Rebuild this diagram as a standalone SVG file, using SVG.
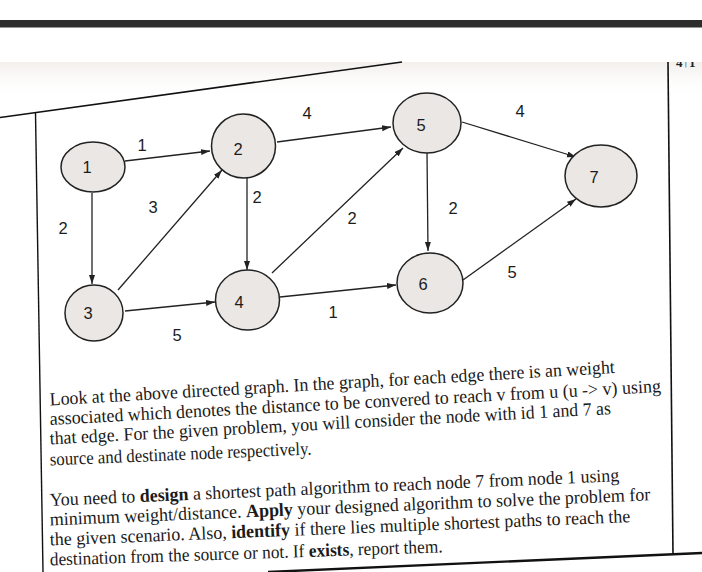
<svg xmlns="http://www.w3.org/2000/svg" width="702" height="572" viewBox="0 0 702 572">
  <defs>
    <style>
      .node ellipse { fill: #ebe7e4; stroke: #222; stroke-width: 1.5; }
      .node text, .elabel { font-family: "Liberation Sans", Arial, sans-serif; font-size: 16.5px; fill: #1c1c1c; text-anchor: middle; }
      .edge { stroke: #222; stroke-width: 1.3; fill: none; marker-end: url(#arrow); }
      .frame { stroke: #111; fill: none; }
      .para { font-family: "Liberation Serif", "Times New Roman", serif; font-size: 18.5px; fill: #1a1a1a; }
      .b { font-weight: bold; }
    </style>
    <marker id="arrow" markerUnits="userSpaceOnUse" markerWidth="10" markerHeight="8" refX="9" refY="3" orient="auto">
      <path d="M0,0 L9,3 L0,6 z" fill="#222"/>
    </marker>
    <linearGradient id="tint" x1="0" y1="0" x2="0" y2="1">
      <stop offset="0" stop-color="#f2efec"/>
      <stop offset="1" stop-color="#ffffff" stop-opacity="0"/>
    </linearGradient>
    <clipPath id="fragclip"><rect x="670" y="62" width="32" height="6"/></clipPath>
  </defs>

  <rect x="0" y="0" width="702" height="572" fill="#ffffff"/>
  <rect x="0" y="20" width="702" height="7.5" fill="#2d2d2d"/>
  <rect x="0" y="62" width="702" height="36" fill="url(#tint)"/>

  <!-- paper frame lines -->
  <g id="frame">
    <path class="frame" d="M0,117.5 L402,62" stroke-width="1.6"/>
    <path class="frame" d="M35.5,113 L43,572" stroke-width="1.4"/>
    <path class="frame" d="M668,62 L673,555" stroke-width="1.6"/>
    <path class="frame" d="M268,572 L702,553" stroke-width="2.4"/>
    <g clip-path="url(#fragclip)">
      <text x="676" y="66.5" font-family="Liberation Serif, serif" font-weight="bold" font-size="13" fill="#222">4↑1</text>
    </g>
  </g>

  <!-- connectors -->
  <g id="edges">
    <line class="edge" x1="125" y1="161" x2="210" y2="151"/>
    <line class="edge" x1="92" y1="193" x2="92" y2="284"/>
    <line class="edge" x1="118" y1="290" x2="222" y2="170"/>
    <line class="edge" x1="247" y1="177" x2="247" y2="270"/>
    <line class="edge" x1="125" y1="311" x2="215" y2="302"/>
    <line class="edge" x1="277" y1="142" x2="391" y2="127"/>
    <line class="edge" x1="272" y1="273" x2="403" y2="148"/>
    <line class="edge" x1="280" y1="297" x2="396" y2="285"/>
    <line class="edge" x1="427" y1="153" x2="428" y2="251"/>
    <line class="edge" x1="462" y1="122" x2="576" y2="157"/>
    <line class="edge" x1="463" y1="280" x2="576" y2="199"/>
    <text class="elabel" x="142" y="151">1</text>
    <text class="elabel" x="63" y="234">2</text>
    <text class="elabel" x="153" y="213">3</text>
    <text class="elabel" x="257" y="203">2</text>
    <text class="elabel" x="177" y="341">5</text>
    <text class="elabel" x="307" y="119">4</text>
    <text class="elabel" x="333" y="318">1</text>
    <text class="elabel" x="352" y="224">2</text>
    <text class="elabel" x="453" y="214">2</text>
    <text class="elabel" x="520" y="117">4</text>
    <text class="elabel" x="512" y="278">5</text>
  </g>

  <!-- nodes -->
  <g id="node1" class="node"><ellipse cx="93" cy="167" rx="32" ry="25"/><text x="87" y="173">1</text></g>
  <g id="node2" class="node"><ellipse cx="243.5" cy="146" rx="32" ry="32"/><text x="238" y="155">2</text></g>
  <g id="node3" class="node"><ellipse cx="94" cy="313" rx="29" ry="28"/><text x="88" y="319">3</text></g>
  <g id="node4" class="node"><ellipse cx="247.5" cy="300" rx="32" ry="30"/><text x="239" y="308">4</text></g>
  <g id="node5" class="node"><ellipse cx="427" cy="123" rx="34" ry="30"/><text x="421" y="131">5</text></g>
  <g id="node6" class="node"><ellipse cx="430" cy="283" rx="33" ry="30"/><text x="423" y="290">6</text></g>
  <g id="node7" class="node"><ellipse cx="601" cy="176" rx="36" ry="31"/><text x="594" y="183">7</text></g>

  <!-- description text -->
  <g id="description" class="para">
    <text x="50" y="405.5" transform="rotate(-3.3 50 405.5)" textLength="566" lengthAdjust="spacingAndGlyphs">Look at the above directed graph. In the graph, for each edge there is an weight</text>
    <text x="50" y="425" transform="rotate(-3.1 50 425)" textLength="612" lengthAdjust="spacingAndGlyphs">associated which denotes the distance to be convered to reach v from u (u -&gt; v) using</text>
    <text x="50" y="444.5" transform="rotate(-3.1 50 444.5)" textLength="562" lengthAdjust="spacingAndGlyphs">that edge. For the given problem, you will consider the node with id 1 and 7 as</text>
    <text x="50" y="465.5" transform="rotate(-2.4 50 465.5)" textLength="262" lengthAdjust="spacingAndGlyphs">source and destinate node respectively.</text>
    <text x="50" y="506" transform="rotate(-2.5 50 506)" textLength="570" lengthAdjust="spacingAndGlyphs">You need to <tspan class="b">design</tspan> a shortest path algorithm to reach node 7 from node 1 using</text>
    <text x="50" y="525.5" transform="rotate(-2.4 50 525.5)" textLength="601" lengthAdjust="spacingAndGlyphs">minimum weight/distance. <tspan class="b">Apply</tspan> your designed algorithm to solve the problem for</text>
    <text x="50" y="545.5" transform="rotate(-2.3 50 545.5)" textLength="581" lengthAdjust="spacingAndGlyphs">the given scenario. Also, <tspan class="b">identify</tspan> if there lies multiple shortest paths to reach the</text>
    <text x="50" y="565.5" transform="rotate(-1.9 50 565.5)" textLength="393" lengthAdjust="spacingAndGlyphs">destination from the source or not. If <tspan class="b">exists</tspan>, report them.</text>
  </g>
</svg>
